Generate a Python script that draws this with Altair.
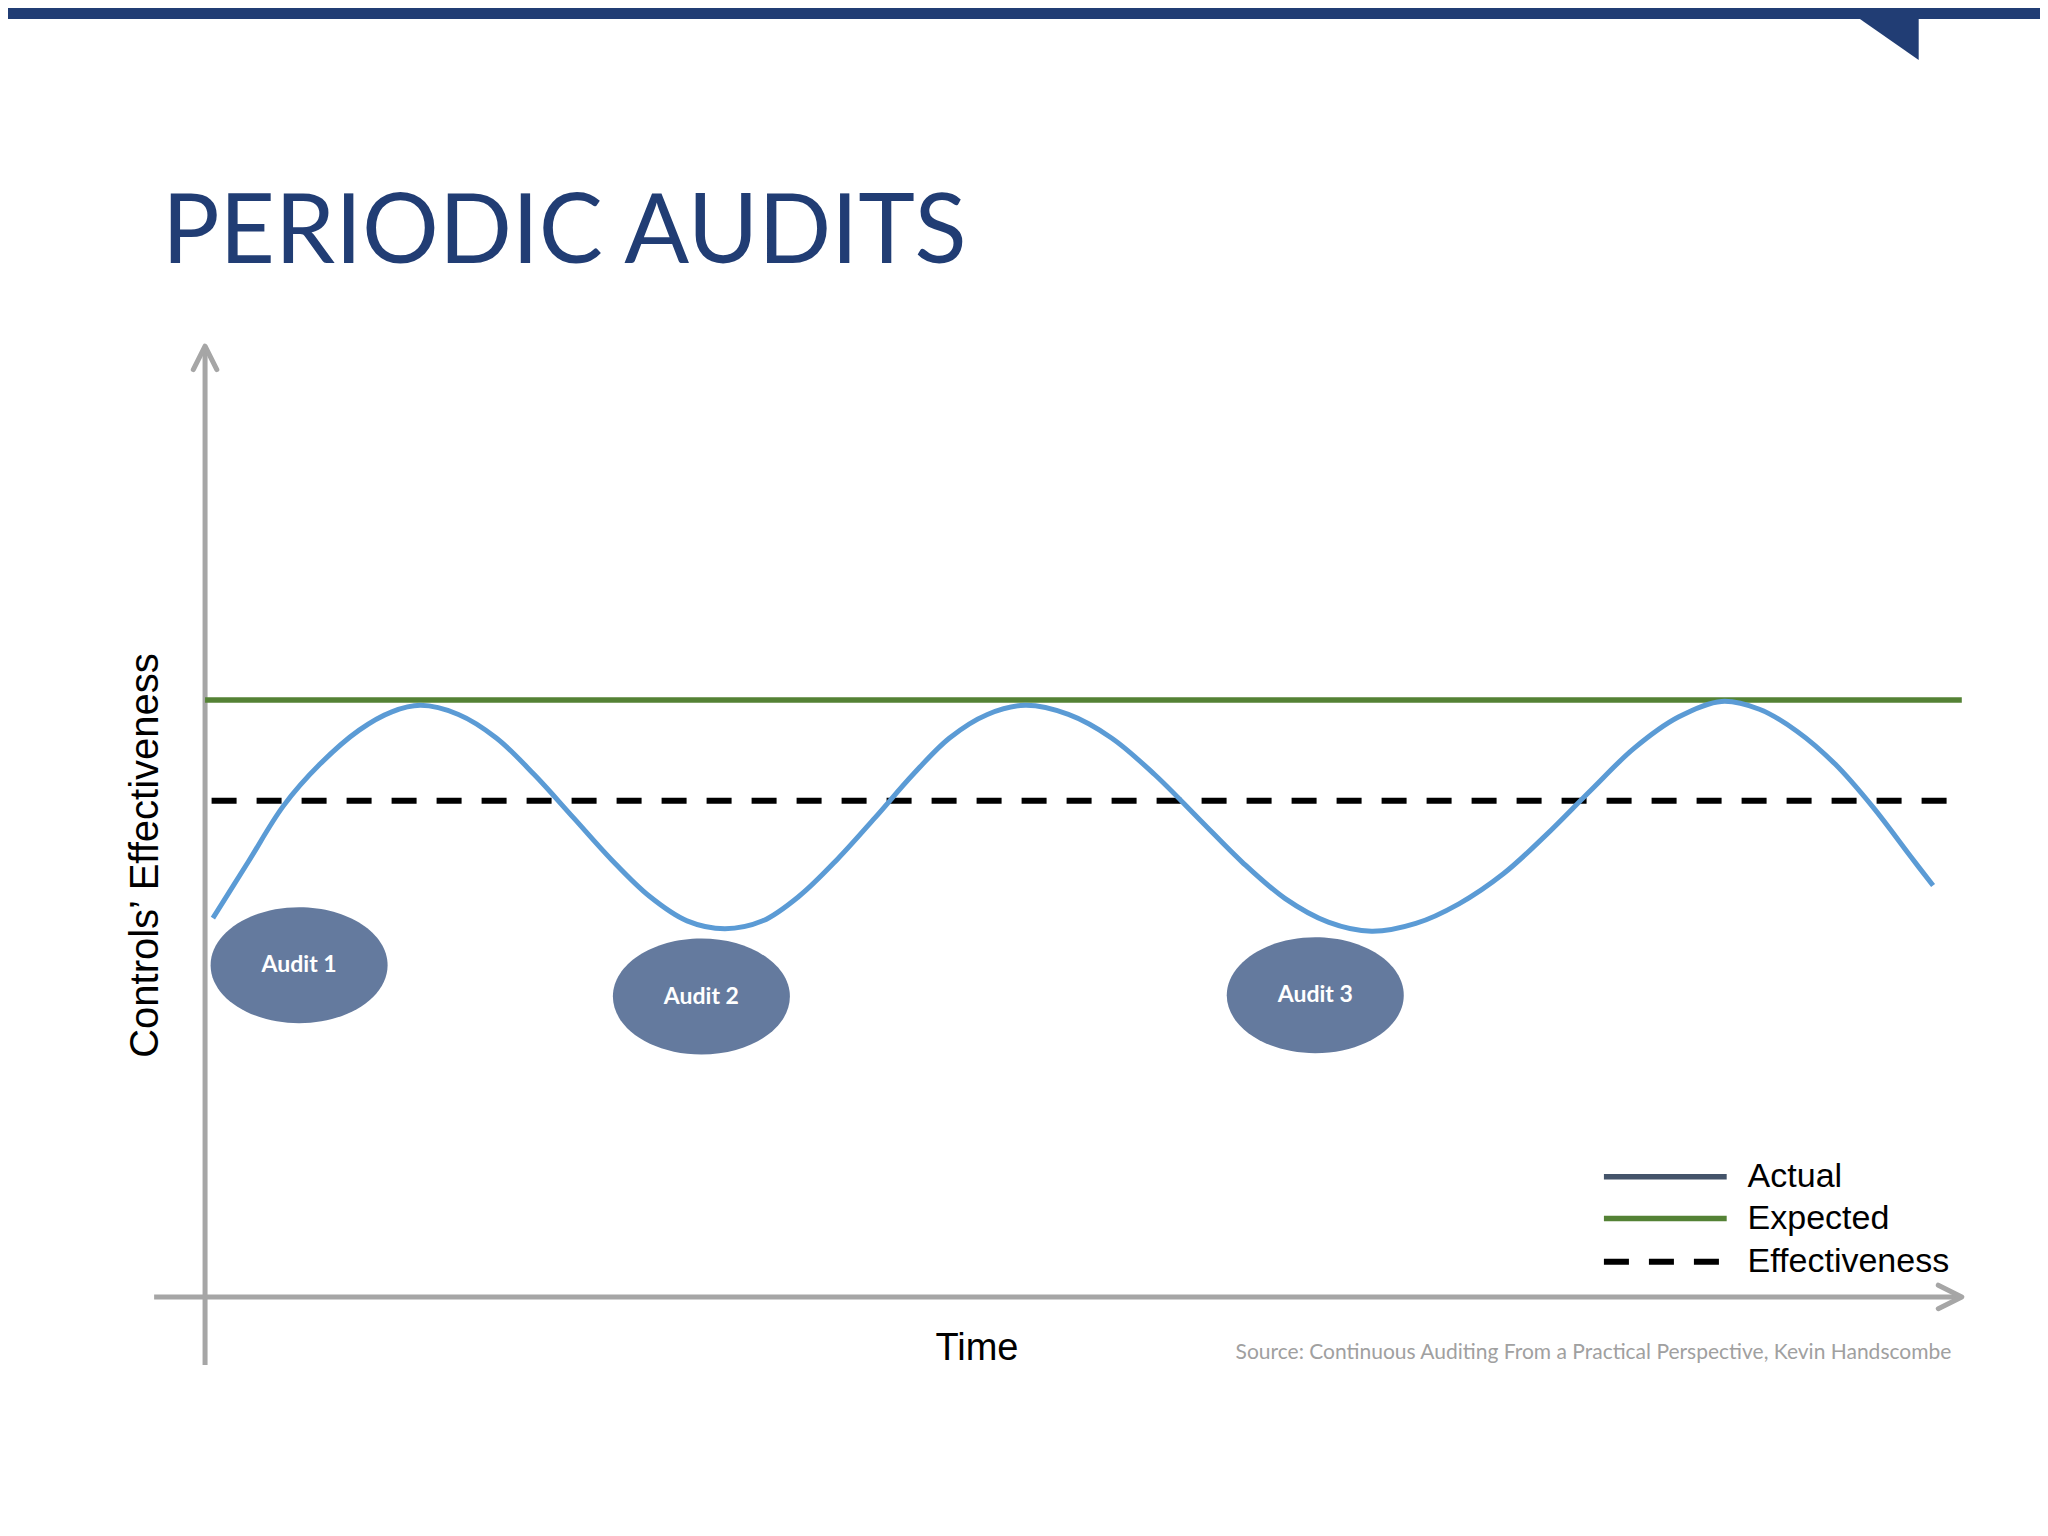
import altair as alt
import pandas as pd

# slide units: "time" runs along the horizontal arrow, "eff" up the vertical one
PX = 2048 / 1568          # page pixels per slide unit
X0, Y0 = 157, 993         # where the two arrows cross (slide units)

# actual controls' effectiveness
curve_t = [6, 33, 60, 88, 118, 143, 165,
           194, 223, 252, 282, 311, 340, 369, 398,
           427, 455, 484, 513, 542, 570, 599, 628,
           661, 694, 727, 761, 794, 827, 860, 893,
           927, 960, 994, 1027, 1061, 1094, 1128, 1161,
           1190, 1219, 1248, 1277, 1306, 1323]
curve_e = [290, 333, 376, 408, 434, 448, 453,
           446, 428, 400, 367, 335, 307, 288, 282,
           288, 307, 335, 367, 400, 428, 446, 453,
           446, 428, 400, 366, 333, 305, 287, 280,
           286, 301, 324, 354, 388, 420, 444, 456,
           450, 433, 408, 375, 337, 315]

expected_level = 457
expected_span = [0, 1345]
threshold_level = 380
threshold_span = [5, 1338]

audit_names = ["Audit 1", "Audit 2", "Audit 3"]
audit_t = [72, 380, 850]
audit_e = [254, 230, 231]

legend_names = ["Actual", "Expected", "Effectiveness"]
legend_colors = ["#44546a", "#548235", "#000000"]
legend_e = [92, 60, 27]
legend_span = [1071, 1165]

title_text = "PERIODIC AUDITS"
y_title = "Controls\u2019 Effectiveness"
x_title = "Time"
source_text = "Source: Continuous Auditing From a Practical Perspective, Kevin Handscombe"

W, H = 2032, 1520
xs = alt.Scale(domain=[8 / PX - X0, 2040 / PX - X0], nice=False, zero=False)
ys = alt.Scale(domain=[Y0 - 1528 / PX, Y0 - 8 / PX], nice=False, zero=False)


def X(f="t"):
    return alt.X(f"{f}:Q", scale=xs, axis=None)


def Y(f="e"):
    return alt.Y(f"{f}:Q", scale=ys, axis=None)


NAVY = "#213d74"
GREY = "#a6a6a6"

# banner across the top with its little notch
banner = alt.Chart(pd.DataFrame({"t": [-160], "t2": [1420], "e": [Y0 - 14.5], "e2": [Y0]})).mark_rect(
    color=NAVY).encode(x=X(), x2="t2:Q", y=Y(), y2="e2:Q")
notch = alt.Chart(pd.DataFrame({"t": [1267, 1312], "e": [Y0 - 14.5, Y0 - 14.5],
                                "e2": [Y0 - 14.5, Y0 - 46]})).mark_area(color=NAVY).encode(
    x=X(), y=Y(), y2="e2:Q")

title = alt.Chart(pd.DataFrame({"t": [-33], "e": [Y0 - 201], "txt": [title_text]})).mark_text(
    align="left", baseline="alphabetic", font="Lato", fontSize=96, color=NAVY).encode(
    x=X(), y=Y(), text="txt:N")

# the two arrows
axes = pd.DataFrame({"t": [0, -39], "t2": [0, 1344], "e": [-52, 0], "e2": [727, 0]})
axis_lines = alt.Chart(axes).mark_rule(color=GREY, strokeWidth=5).encode(
    x=X(), x2="t2:Q", y=Y(), y2="e2:Q")
heads = pd.DataFrame({
    "arrow": ["y", "y", "y", "x", "x", "x"],
    "k": [0, 1, 2, 0, 1, 2],
    "t": [-9, 0, 9, 1327, 1345, 1327],
    "e": [710, 728, 710, 9, 0, -9],
})
arrow_heads = alt.Chart(heads).mark_line(color=GREY, strokeWidth=5, strokeCap="round",
                                         strokeJoin="round").encode(
    x=X(), y=Y(), detail="arrow:N", order="k:Q")

expected = alt.Chart(pd.DataFrame({"t": [expected_span[0]], "t2": [expected_span[1]],
                                   "e": [expected_level]})).mark_rule(
    color="#548235", strokeWidth=5.5).encode(x=X(), x2="t2:Q", y=Y())
threshold = alt.Chart(pd.DataFrame({"t": [threshold_span[0]], "t2": [threshold_span[1]],
                                    "e": [threshold_level]})).mark_rule(
    color="#000000", strokeWidth=6, strokeDash=[25, 20]).encode(x=X(), x2="t2:Q", y=Y())

actual = alt.Chart(pd.DataFrame({"t": curve_t, "e": curve_e})).mark_line(
    color="#5b9bd5", strokeWidth=5, interpolate="catmull-rom").encode(x=X(), y=Y())

ELLIPSE = ("M-1,0 C-1,-0.361 -0.552,-0.655 0,-0.655 C0.552,-0.655 1,-0.361 1,0 "
           "C1,0.361 0.552,0.655 0,0.655 C-0.552,0.655 -1,0.361 -1,0 Z")
audits_df = pd.DataFrame({"t": audit_t, "e": audit_e, "name": audit_names})
bubbles = alt.Chart(audits_df).mark_point(shape=ELLIPSE, filled=True, size=177 ** 2,
                                          color="#647a9e", opacity=1).encode(x=X(), y=Y())
bubble_text = alt.Chart(audits_df).mark_text(font="Lato", fontWeight="bold", fontSize=23,
                                             color="white").encode(x=X(), y=Y(), text="name:N")

leg = pd.DataFrame({"name": legend_names, "color": legend_colors, "e": legend_e,
                    "t": legend_span[0], "t2": legend_span[1], "tx": legend_span[1] + 16})
leg_solid = alt.Chart(leg.iloc[:2]).mark_rule(strokeWidth=5.5).encode(
    x=X(), x2="t2:Q", y=Y(), color=alt.Color("color:N", scale=None))
leg_dash = alt.Chart(leg.iloc[2:]).mark_rule(strokeWidth=6, strokeDash=[25, 20]).encode(
    x=X(), x2="t2:Q", y=Y(), color=alt.Color("color:N", scale=None))
leg_text = alt.Chart(leg).mark_text(align="left", baseline="middle", font="Liberation Sans",
                                    fontSize=34, color="black").encode(
    x=X("tx"), y=Y(), text="name:N")

labels = alt.Chart(pd.DataFrame({"t": [-45], "e": [338], "txt": [y_title]})).mark_text(
    angle=270, baseline="middle", font="Liberation Sans", fontSize=40, color="black").encode(
    x=X(), y=Y(), text="txt:N")
time_label = alt.Chart(pd.DataFrame({"t": [591], "e": [-40], "txt": [x_title]})).mark_text(
    baseline="middle", font="Liberation Sans", fontSize=38, color="black").encode(
    x=X(), y=Y(), text="txt:N")
source = alt.Chart(pd.DataFrame({"t": [1337], "e": [-43], "txt": [source_text]})).mark_text(
    align="right", baseline="middle", font="Lato", fontSize=21, color="#a0a0a0").encode(
    x=X(), y=Y(), text="txt:N")

chart = alt.layer(
    banner, notch, title, axis_lines, arrow_heads, expected, threshold, actual,
    bubbles, bubble_text, leg_solid, leg_dash, leg_text, labels, time_label, source,
).properties(
    width=W, height=H, padding=0, background="white",
    autosize=alt.AutoSizeParams(type="none"),
).configure_view(strokeWidth=0)

chart.save("out.html", embed_options={"renderer": "svg", "actions": False})
